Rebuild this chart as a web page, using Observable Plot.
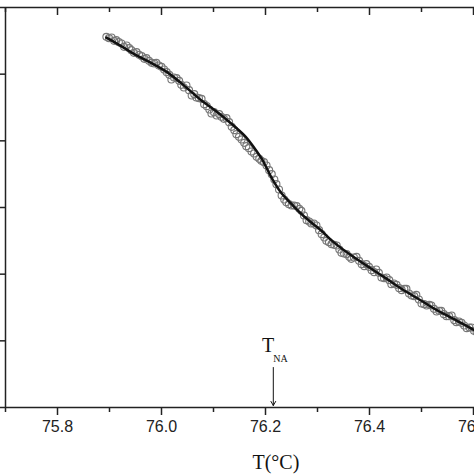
<!DOCTYPE html>
<html>
<head>
<meta charset="utf-8">
<script src="https://cdn.jsdelivr.net/npm/d3@7"></script>
<script src="https://cdn.jsdelivr.net/npm/@observablehq/plot@0.6"></script>
<style>
  html, body { margin: 0; padding: 0; background: #fff; overflow: hidden; width: 474px; height: 474px; }
  #chart svg { max-width: none !important; display: block; }
</style>
</head>
<body>
<div id="chart"></div>
<script>
// Fitted curve (black line)
const fitT = [75.894, 75.921, 75.946, 75.979, 76.012, 76.046, 76.075, 76.104, 76.139, 76.162, 76.181, 76.194, 76.204, 76.214, 76.229, 76.248, 76.267, 76.287, 76.306, 76.331, 76.364, 76.396, 76.431, 76.460, 76.498, 76.523, 76.556, 76.602, 76.621];
const fitY = [5.549, 5.429, 5.308, 5.173, 5.023, 4.812, 4.617, 4.451, 4.226, 4.060, 3.865, 3.714, 3.564, 3.414, 3.233, 3.068, 2.917, 2.782, 2.662, 2.481, 2.286, 2.120, 1.940, 1.789, 1.609, 1.489, 1.353, 1.158, 1.083];

// Measured points (open circles), run 1
const dataT = [75.894, 75.904, 75.913, 75.923, 75.933, 75.942, 75.952, 75.962, 75.971, 75.981, 75.990, 76.000, 76.010, 76.019, 76.029, 76.038, 76.048, 76.058, 76.067, 76.077, 76.087, 76.096, 76.106, 76.115, 76.125, 76.135, 76.144, 76.154, 76.163, 76.173, 76.183, 76.192, 76.202, 76.212, 76.221, 76.231, 76.240, 76.250, 76.260, 76.269, 76.279, 76.288, 76.298, 76.308, 76.317, 76.327, 76.337, 76.346, 76.356, 76.365, 76.375, 76.385, 76.394, 76.404, 76.413, 76.423, 76.433, 76.442, 76.452, 76.462, 76.471, 76.481, 76.490, 76.500, 76.510, 76.519, 76.529, 76.538, 76.548, 76.558, 76.567, 76.577, 76.587, 76.596, 76.606];
const dataY = [5.56, 5.55, 5.51, 5.46, 5.43, 5.36, 5.33, 5.27, 5.24, 5.17, 5.17, 5.11, 5.03, 4.92, 4.94, 4.84, 4.83, 4.68, 4.65, 4.63, 4.52, 4.41, 4.38, 4.36, 4.34, 4.21, 4.10, 4.02, 3.92, 3.84, 3.76, 3.70, 3.63, 3.50, 3.35, 3.18, 3.08, 3.03, 3.02, 2.95, 2.81, 2.76, 2.73, 2.60, 2.50, 2.45, 2.43, 2.32, 2.30, 2.23, 2.26, 2.15, 2.15, 2.06, 2.07, 1.95, 1.95, 1.85, 1.84, 1.76, 1.78, 1.68, 1.69, 1.56, 1.53, 1.53, 1.44, 1.45, 1.37, 1.38, 1.28, 1.27, 1.19, 1.20, 1.13];

// Measured points (open circles), run 2
const dataT2 = [75.899, 75.909, 75.918, 75.928, 75.938, 75.947, 75.957, 75.967, 75.976, 75.986, 75.995, 76.005, 76.015, 76.024, 76.034, 76.043, 76.053, 76.063, 76.072, 76.082, 76.092, 76.101, 76.111, 76.120, 76.130, 76.140, 76.149, 76.159, 76.168, 76.178, 76.188, 76.197, 76.207, 76.217, 76.226, 76.236, 76.245, 76.255, 76.265, 76.274, 76.284, 76.293, 76.303, 76.313, 76.322, 76.332, 76.342, 76.351, 76.361, 76.370, 76.380, 76.390, 76.399, 76.409, 76.418, 76.428, 76.438, 76.447, 76.457, 76.467, 76.476, 76.486, 76.495, 76.505, 76.515, 76.524, 76.534, 76.543, 76.553, 76.563, 76.572, 76.582, 76.592, 76.601];
const dataY2 = [5.54, 5.50, 5.48, 5.41, 5.39, 5.32, 5.29, 5.23, 5.20, 5.16, 5.13, 5.07, 4.99, 4.95, 4.90, 4.80, 4.76, 4.70, 4.64, 4.55, 4.47, 4.43, 4.40, 4.33, 4.28, 4.16, 4.06, 3.97, 3.89, 3.81, 3.73, 3.68, 3.56, 3.42, 3.27, 3.12, 3.05, 3.03, 2.98, 2.88, 2.79, 2.76, 2.66, 2.55, 2.48, 2.44, 2.37, 2.31, 2.26, 2.25, 2.20, 2.12, 2.11, 2.03, 2.02, 1.94, 1.91, 1.86, 1.79, 1.78, 1.71, 1.67, 1.62, 1.55, 1.54, 1.48, 1.45, 1.40, 1.37, 1.31, 1.29, 1.23, 1.20, 1.15];

const majorTicks = [75.8, 76.0, 76.2, 76.4, 76.6];
const majorLabels = ["75.8", "76.0", "76.2", "76.4", "76.6"];
const minorTicks = [75.7, 75.9, 76.1, 76.3, 76.5, 76.7];
const yTicks = [0, 1, 2, 3, 4, 5, 6];
const xTitle = "T(°C)";
const tnaX = 76.215;

const fit = fitT.map((t, i) => ({t, y: fitY[i]}));
const pts = dataT.map((t, i) => ({t, y: dataY[i]}))
  .concat(dataT2.map((t, i) => ({t, y: dataY2[i]})));
const xmin = 75.7, xmax = 76.8, ymin = 0, ymax = 6;

const plot = Plot.plot({
  width: 600,
  height: 474,
  marginLeft: 5,
  marginRight: 23,
  marginTop: 7,
  marginBottom: 67,
  x: {domain: [xmin, xmax]},
  y: {domain: [ymin, ymax]},
  style: {fontFamily: "'Liberation Sans', Arial, sans-serif", background: "white", color: "#222"},
  marks: [
    // frame
    Plot.ruleX([xmin], {stroke: "#222", strokeWidth: 1.5}),
    Plot.ruleY([ymin], {stroke: "#222", strokeWidth: 1.5}),
    Plot.ruleY([ymax], {stroke: "#222", strokeWidth: 1.5}),
    // bottom axis
    Plot.axisX({ticks: majorTicks, tickSize: 8, tickPadding: 5, tickFormat: (d) => majorLabels[majorTicks.indexOf(d)], fontSize: 16, strokeWidth: 1.5, label: null}),
    Plot.axisX({ticks: minorTicks, tickSize: 5, tickFormat: () => "", strokeWidth: 1.5, label: null}),
    // left axis ticks (outward)
    Plot.axisY({ticks: yTicks, tickSize: 5, tickFormat: () => "", strokeWidth: 1.5, label: null}),
    // top mirror ticks (inward)
    Plot.ruleX(majorTicks, {x: d => d, y1: ymax, y2: ymax - 0.12, stroke: "#222", strokeWidth: 1.5}),
    Plot.ruleX(minorTicks, {x: d => d, y1: ymax, y2: ymax - 0.075, stroke: "#222", strokeWidth: 1.5}),
    // data
    Plot.dot(pts, {x: "t", y: "y", r: 3.5, stroke: "#777", strokeWidth: 1.1, fill: "none"}),
    Plot.line(fit, {x: "t", y: "y", stroke: "#111", strokeWidth: 2.5, curve: "catmull-rom"}),
    // T_NA annotation
    Plot.arrow([{x: tnaX}], {x1: "x", x2: "x", y1: 0.60, y2: 0.03, stroke: "#111", strokeWidth: 1, headLength: 7}),
    Plot.text([{x: tnaX}], {x: d => d.x - 0.01, y: 0.83, text: () => "T", fontFamily: "'Liberation Serif', 'Times New Roman', serif", fontSize: 20, lineAnchor: "bottom", fill: "#111"}),
    Plot.text([{x: tnaX}], {x: d => d.x + 0.014, y: 0.68, text: () => "NA", fontFamily: "'Liberation Serif', 'Times New Roman', serif", fontSize: 10, lineAnchor: "bottom", fill: "#111"}),
    // x title
    Plot.text([{x: 76.22}], {x: "x", y: ymin, dy: 55, text: () => xTitle, fontFamily: "'Liberation Serif', 'Times New Roman', serif", fontSize: 20, lineAnchor: "middle", fill: "#111"})
  ]
});
document.getElementById("chart").appendChild(plot);
</script>
</body>
</html>
